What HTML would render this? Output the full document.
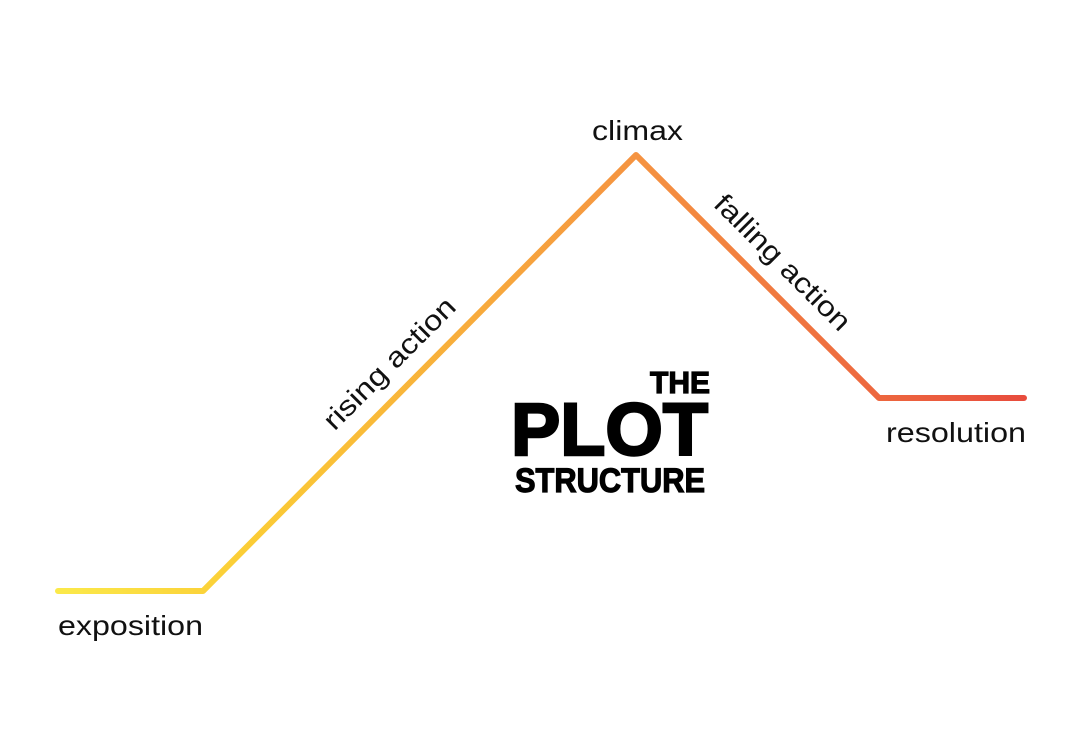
<!DOCTYPE html>
<html><head><meta charset="utf-8"><style>html,body{margin:0;padding:0;background:#fff}</style></head>
<body>
<svg width="1086" height="744" viewBox="0 0 1086 744" xmlns="http://www.w3.org/2000/svg">
<defs>
<linearGradient id="g" gradientUnits="userSpaceOnUse" x1="58" y1="0" x2="1024" y2="0">
<stop offset="0" stop-color="#fbe94a"/>
<stop offset="0.2" stop-color="#fbcc35"/>
<stop offset="0.6" stop-color="#f59341"/>
<stop offset="1" stop-color="#e84c3d"/>
</linearGradient>
</defs>
<polyline points="58,591 203,591 636,155 879,398 1024,398" fill="none" stroke="url(#g)" stroke-width="6" stroke-linecap="round" stroke-linejoin="round"/>
<g font-family="Liberation Sans, sans-serif" font-size="28" fill="#111">
<text x="58" y="635" textLength="145" lengthAdjust="spacingAndGlyphs">exposition</text>
<text x="592" y="140" textLength="91" lengthAdjust="spacingAndGlyphs">climax</text>
<text x="886" y="442" textLength="140" lengthAdjust="spacingAndGlyphs">resolution</text>
<text transform="translate(389,363) rotate(-45)" text-anchor="middle" y="10" textLength="174" lengthAdjust="spacingAndGlyphs">rising action</text>
<text transform="translate(783,262) rotate(45)" text-anchor="middle" y="10" textLength="180" lengthAdjust="spacingAndGlyphs">falling action</text>
</g>
<g font-family="Liberation Sans, sans-serif" font-weight="bold" fill="#000" stroke="#000">
<text x="650" y="393" font-size="31" stroke-width="1.2" textLength="60" lengthAdjust="spacingAndGlyphs">THE</text>
<text x="511" y="455" font-size="74" stroke-width="2.5" textLength="197" lengthAdjust="spacingAndGlyphs">PLOT</text>
<text x="515" y="492" font-size="34" stroke-width="1.2" textLength="190" lengthAdjust="spacingAndGlyphs">STRUCTURE</text>
</g>
</svg>
</body></html>
